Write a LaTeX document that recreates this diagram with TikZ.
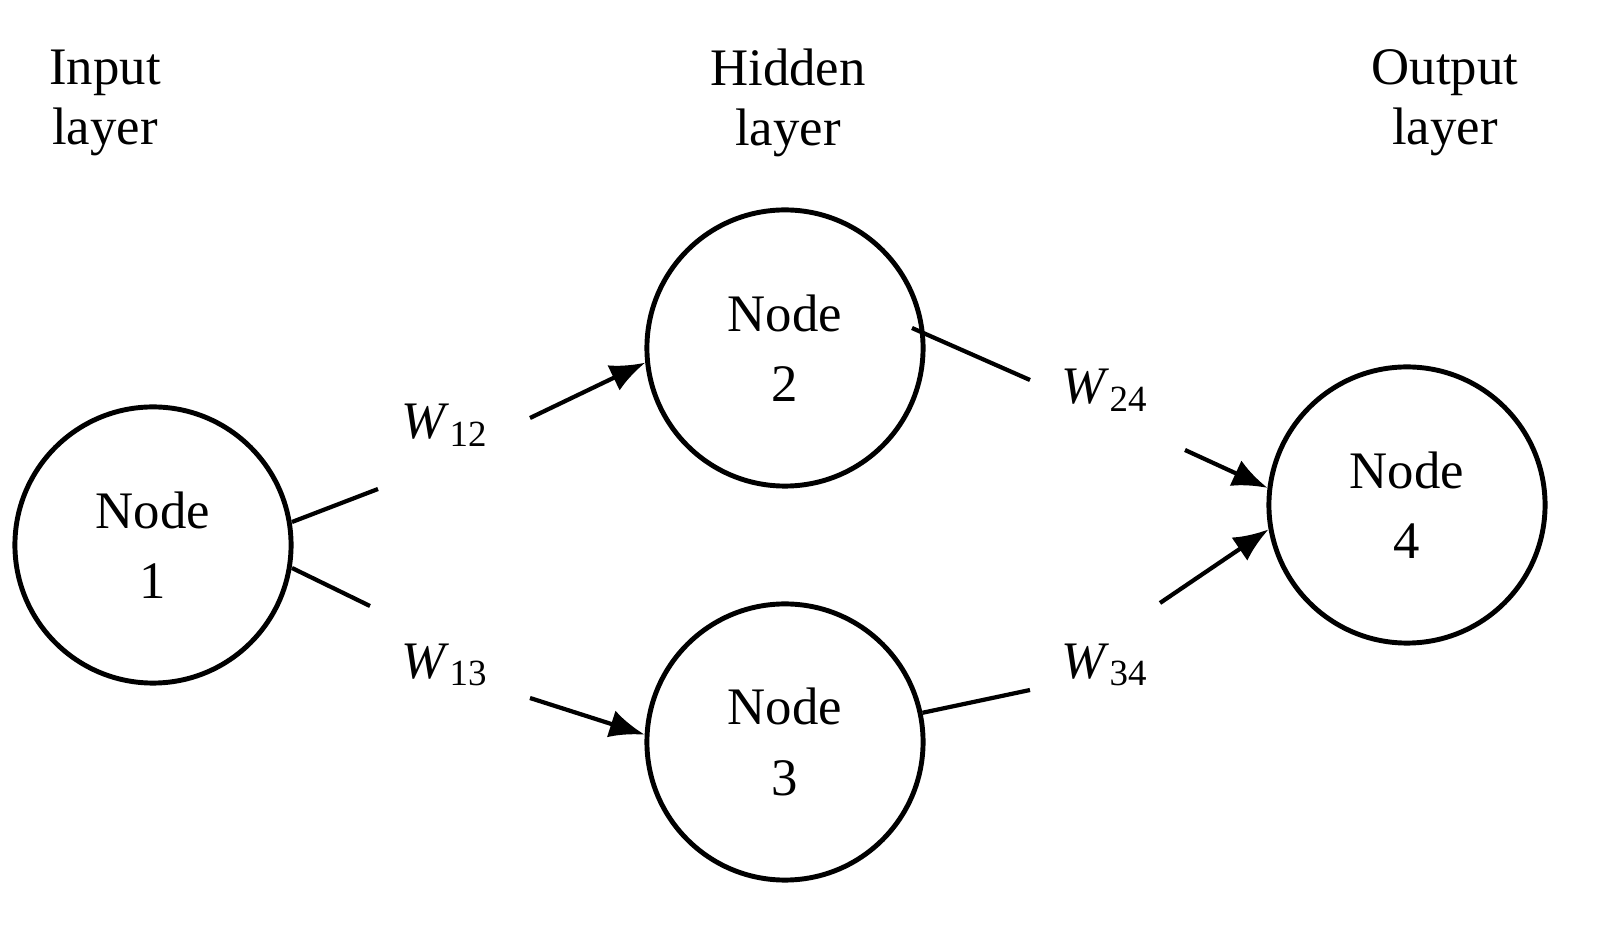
\documentclass[tikz,border=0pt]{standalone}
\usepackage{fontspec}
\setmainfont{Liberation Serif}
\usetikzlibrary{arrows.meta}
\tikzset{
  neuron/.style={circle, draw, line width=1.4pt, minimum size=2.76cm, align=center, font=\fontsize{15}{20}\selectfont},
  layer/.style={align=center, font=\fontsize{15}{17}\selectfont},
  wlabel/.style={font=\fontsize{15}{17}\selectfont},
  link/.style={line width=1.2pt},
  arr/.style={line width=1.2pt, -{Latex[length=3.5mm,width=2.8mm]}}
}
\newcommand{\wgt}[1]{\textit{W}\textsubscript{#1}}
\begin{document}
\begin{tikzpicture}[x=0.01cm,y=-0.01cm]
\useasboundingbox (0,0) rectangle (1617,937);
\node[layer] (in) at (105,103) {Input\\layer};
\node[layer] (hid) at (788,103) {Hidden\\layer};
\node[layer] (out) at (1445,103) {Output\\layer};
\node[neuron] (n1) at (153,545) {Node\\1};
\node[neuron] (n2) at (785,348) {Node\\2};
\node[neuron] (n3) at (785,742) {Node\\3};
\node[neuron] (n4) at (1407,505) {Node\\4};
\node[wlabel] (w12) at (445,425) {\wgt{12}};
\node[wlabel] (w13) at (445,665) {\wgt{13}};
\node[wlabel] (w24) at (1105,390) {\wgt{24}};
\node[wlabel] (w34) at (1105,665) {\wgt{34}};
% gap ends
\coordinate (a1) at (378,489); \coordinate (a2) at (530,418);
\coordinate (b1) at (370,606); \coordinate (b2) at (530,698);
\coordinate (c1) at (1030,380); \coordinate (c2) at (1185,450);
\coordinate (d1) at (1030,690); \coordinate (d2) at (1160,603);
\draw[link] (292,522) -- (a1);
\draw[arr] (a2) -- (n2.186);
\draw[link] (292,568) -- (b1);
\draw[arr] (b2) -- (n3.177);
\draw[link] (912,328) -- (c1);
\draw[arr] (c2) -- (n4.173);
\draw[link] (n3.12) -- (d1);
\draw[arr] (d2) -- (n4.190);
\end{tikzpicture}
\end{document}
